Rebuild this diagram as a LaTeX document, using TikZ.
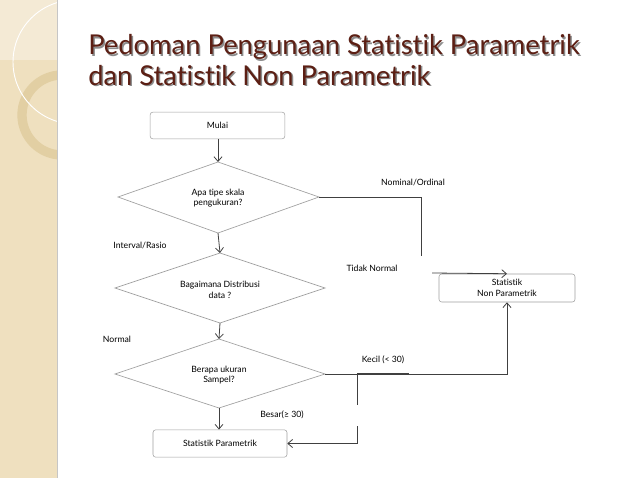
\documentclass[tikz,border=0pt]{standalone}
\usepackage{fontspec}
\setmainfont{Lato}[Ligatures={NoCommon,NoRare}]
\usetikzlibrary{arrows.meta}
\definecolor{strip}{HTML}{EFE0BF}
\definecolor{ring}{HTML}{E2CFA3}
\definecolor{titlec}{HTML}{5C1F14}
\definecolor{boxc}{HTML}{A0A0A0}
\tikzset{
 lbl/.style={font=\fontsize{6.5}{8}\selectfont, align=center, inner sep=0pt},
 rbox/.style={draw=boxc, rounded corners=2pt, fill=white},
 dia/.style={draw=boxc, line width=0.5pt},
 conn/.style={draw=black!75, line width=0.6pt},
 arr/.style={conn, -{Straight Barb[length=3.5pt,width=6pt]}},
 ttl/.style={font=\fontsize{20.5}{24}\selectfont, anchor=base west, inner sep=0pt}
}
\begin{document}
\begin{tikzpicture}[x=0.75pt,y=-0.75pt]
\useasboundingbox (0,0) rectangle (638,478);
\fill[white] (0,0) rectangle (638,478);
% left strip
\fill[strip] (0,0) rectangle (57,478);
\begin{scope}
\clip (0,0) rectangle (57,478);
\fill[white,opacity=0.35] (0,0) rectangle (57,60);
\draw[ring,line width=7pt] (62,115) circle (40);
\draw[white,line width=0.7pt] (75,62) circle (62);
\end{scope}
\draw[boxc!60,line width=0.4pt] (57,0) -- (57,478);
% title
\node[ttl,text=black!45] at (89.5,56.5) {Pedoman Pengunaan Statistik Parametrik};
\node[ttl,text=titlec] at (88,55) {Pedoman Pengunaan Statistik Parametrik};
\node[ttl,text=black!45] at (89.5,86.5) {dan Statistik Non Parametrik};
\node[ttl,text=titlec] at (88,85) {dan Statistik Non Parametrik};
% boxes
\node[rbox,lbl,minimum width=101pt,minimum height=20pt] (mulai) at (217.5,125.5) {Mulai};
\node[rbox,lbl,minimum width=100.5pt,minimum height=20.5pt] (param) at (220,443.5) {Statistik Parametrik};
\node[rbox,lbl,minimum width=102pt,minimum height=21pt] (nonp) at (507,288) {Statistik\\Non Parametrik};
% diamonds
\coordinate (d1t) at (218,162); \coordinate (d1b) at (218,233);
\coordinate (d1l) at (118,197); \coordinate (d1r) at (319,197);
\draw[dia] (d1t)--(d1r)--(d1b)--(d1l)--cycle;
\node[lbl] (q1) at (218,198) {Apa tipe skala\\pengukuran?};
\coordinate (d2t) at (220,253); \coordinate (d2b) at (220,323);
\coordinate (d2l) at (115,288); \coordinate (d2r) at (325,288);
\draw[dia] (d2t)--(d2r)--(d2b)--(d2l)--cycle;
\node[lbl] (q2) at (220,290) {Bagaimana Distribusi\\data ?};
\coordinate (d3t) at (219,339); \coordinate (d3b) at (219,408);
\coordinate (d3l) at (115,374); \coordinate (d3r) at (325,374);
\draw[dia] (d3t)--(d3r)--(d3b)--(d3l)--cycle;
\node[lbl] (q3) at (219,375) {Berapa ukuran\\Sampel?};
% vertical arrows
\draw[arr] (mulai.south -| d1t) -- (d1t);
\draw[arr] (d1b) -- (d2t);
\draw[arr] (d2b) -- (d3t);
\draw[arr] (d3b) -- (param.north -| d3b);
% right connectors
\coordinate (n1) at (421,197); \coordinate (n2) at (421,256);
\draw[conn] (d1r) -- (n1) -- (n2);
\coordinate (t1) at (432,273);
\draw[arr] (t1) -- (nonp.north);
\coordinate (k1) at (507,374);
\draw[arr] (d3r) -- (k1) -- (nonp.south);
\coordinate (ka) at (357,374); \coordinate (kb) at (409,374);
\draw[conn,line width=1.3pt] (ka) -- (kb);
\coordinate (v1) at (357,405);
\draw[conn] (ka) -- (v1);
\coordinate (v2) at (357,426);
\draw[arr] (v2) |- (param.east);
% labels
\node[lbl] (lno) at (413,183) {Nominal/Ordinal};
\node[lbl] (lir) at (140,246) {Interval/Rasio};
\node[lbl] (ltn) at (372,268) {Tidak Normal};
\node[lbl] (lnm) at (117,339) {Normal};
\node[lbl] (lkc) at (383,360) {Kecil (< 30)};
\node[lbl] (lbs) at (282,415) {Besar(≥ 30)};
\end{tikzpicture}
\end{document}
